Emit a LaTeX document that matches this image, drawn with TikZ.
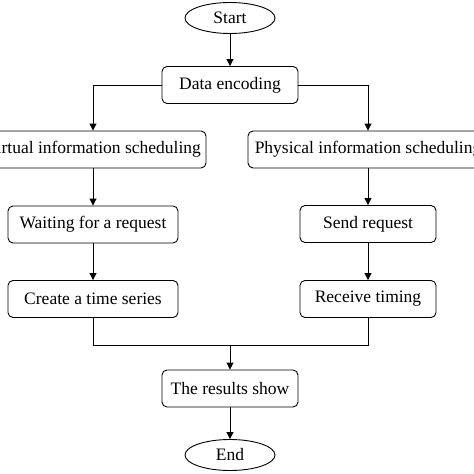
\documentclass[tikz,border=0pt]{standalone}
\usepackage{fontspec}
\setmainfont{Liberation Serif}
\usetikzlibrary{arrows.meta,shapes.geometric}
\begin{document}
\begin{tikzpicture}[x=1pt,y=-1pt,
  box/.style={draw,rounded corners=5pt,line width=0.9pt,minimum height=37pt,inner sep=0pt,font=\fontsize{17.5}{17.5}\selectfont},
  term/.style={draw,ellipse,line width=0.9pt,minimum width=90pt,minimum height=31pt,inner sep=0pt,font=\fontsize{17.5}{17.5}\selectfont},
  arr/.style={line width=0.9pt,-{Triangle[length=7pt,width=7pt]}},
  ln/.style={line width=0.9pt}]
\useasboundingbox (0,0) rectangle (474,474);
\clip (0,0) rectangle (474,474);
\node[term] (start) at (230,18) {Start};
\node[box,minimum width=136pt] (enc) at (230,85) {Data encoding};
\node[box,minimum width=226pt] (virt) at (93,149.5) {Virtual information scheduling};
\node[box,minimum width=240pt] (phys) at (368,149.5) {Physical information scheduling};
\node[box,minimum width=170pt] (wait) at (93,224.5) {Waiting for a request};
\node[box,minimum width=136pt] (send) at (368,224) {Send request};
\node[box,minimum width=170pt] (create) at (93,299) {Create a time series};
\node[box,minimum width=136pt] (recv) at (368,299) {Receive timing};
\node[box,minimum width=136pt] (res) at (230,388.5) {The results show};
\node[term] (end) at (230,455) {End};
\coordinate (m) at (230,345);
\draw[arr] (start) -- (enc);
\draw[arr] (enc.west) -| (virt.north);
\draw[arr] (enc.east) -| (phys.north);
\draw[arr] (virt) -- (wait);
\draw[arr] (phys) -- (send);
\draw[arr] (wait) -- (create);
\draw[arr] (send) -- (recv);
\draw[ln] (create.south) |- (m);
\draw[ln] (recv.south) |- (m);
\draw[arr] (m) -- (res);
\draw[arr] (res) -- (end);
\end{tikzpicture}
\end{document}
